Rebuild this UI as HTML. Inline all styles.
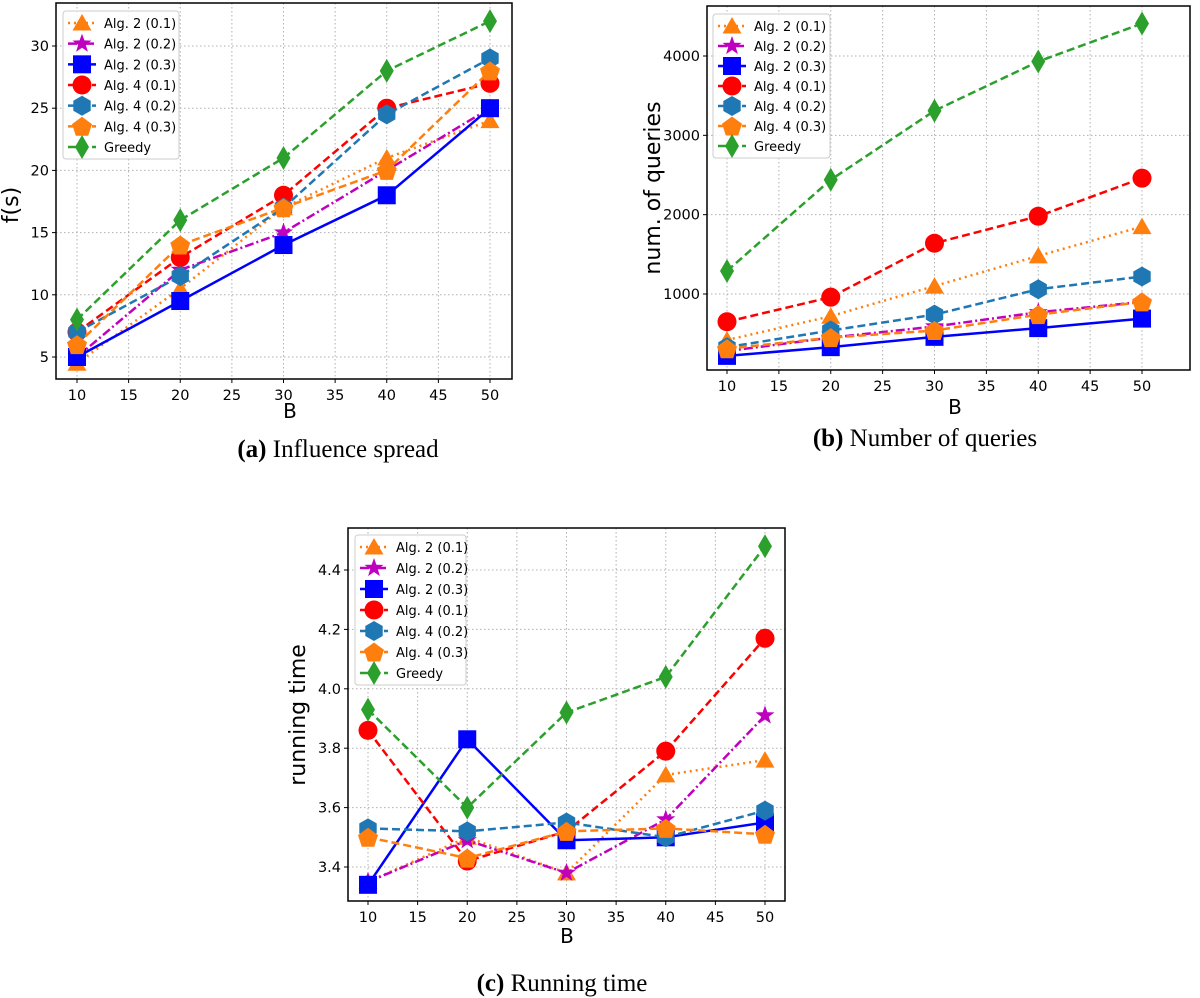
<!DOCTYPE html>
<html><head><meta charset="utf-8"><style>
body{margin:0;background:#fff;}
svg{display:block;font-family:"DejaVu Sans","Liberation Sans",sans-serif;}
.cap{font-family:"Liberation Serif",serif;font-size:25px;}
</style></head><body>
<svg id="fig" width="1200" height="998" viewBox="0 0 1200 998">
<text class="cap" x="338" y="457" text-anchor="middle"><tspan font-weight="bold">(a)</tspan> Influence spread</text>
<text class="cap" x="925" y="446" text-anchor="middle"><tspan font-weight="bold">(b)</tspan> Number of queries</text>
<text class="cap" x="562" y="991" text-anchor="middle"><tspan font-weight="bold">(c)</tspan> Running time</text>
</svg>
<script>
const categories=[10,20,30,40,50];
const seriesNames=["Alg. 2 (0.1)","Alg. 2 (0.2)","Alg. 2 (0.3)","Alg. 4 (0.1)","Alg. 4 (0.2)","Alg. 4 (0.3)","Greedy"];
const xTicks=[10,15,20,25,30,35,40,45,50];
// chart a
const aA21=[4.5,10.5,17,21,24];
const aA22=[5,12,15,20,25];
const aA23=[5,9.5,14,18,25];
const aA41=[7,13,18,25,27];
const aA42=[7,11.5,17,24.5,29];
const aA43=[6,14,17,20,28];
const aGreedy=[8,16,21,28,32];
const aTicks=[5,10,15,20,25,30];
// chart b
const bA21=[420,720,1100,1480,1850];
const bA22=[280,450,590,770,900];
const bA23=[220,330,460,570,690];
const bA41=[650,960,1640,1980,2460];
const bA42=[330,540,740,1060,1220];
const bA43=[310,450,540,740,900];
const bGreedy=[1290,2440,3310,3930,4410];
const bTicks=[1000,2000,3000,4000];
// chart c
const cA21=[3.35,3.50,3.38,3.71,3.76];
const cA22=[3.35,3.49,3.38,3.56,3.91];
const cA23=[3.34,3.83,3.49,3.50,3.55];
const cA41=[3.86,3.42,3.52,3.79,4.17];
const cA42=[3.53,3.52,3.55,3.50,3.59];
const cA43=[3.50,3.43,3.52,3.53,3.51];
const cGreedy=[3.93,3.60,3.92,4.04,4.48];
const cTicks=[3.4,3.6,3.8,4.0,4.2,4.4];

const NS="http://www.w3.org/2000/svg";
const svg=document.getElementById('fig');
const styles=[
 {c:"#ff7f0e",d:"2,4",m:"tri"},
 {c:"#bf00bf",d:"9,3,2,3",m:"star"},
 {c:"#0000ff",d:"",m:"sq"},
 {c:"#ff0000",d:"8,4",m:"circ"},
 {c:"#1f77b4",d:"8,4",m:"hex"},
 {c:"#ff7f0e",d:"8,4",m:"pent"},
 {c:"#2ca02c",d:"8,4",m:"diam"}];
function el(t,a,p){const e=document.createElementNS(NS,t);for(const k in a)e.setAttribute(k,a[k]);(p||svg).appendChild(e);return e;}
function poly(n,r,rot,cx,cy){let p=[];for(let i=0;i<n;i++){const a=rot+i*2*Math.PI/n;p.push((cx+r*Math.cos(a)).toFixed(1)+","+(cy+r*Math.sin(a)).toFixed(1));}return p.join(" ");}
function marker(g,type,cx,cy,col){
 let e;
 if(type==="tri") e=el('polygon',{points:poly(3,11,-Math.PI/2,cx,cy+2)},g);
 else if(type==="star"){let p=[];for(let i=0;i<10;i++){const r=i%2?4:10,a=-Math.PI/2+i*Math.PI/5;p.push((cx+r*Math.cos(a)).toFixed(1)+","+(cy+r*Math.sin(a)).toFixed(1));}e=el('polygon',{points:p.join(" ")},g);}
 else if(type==="sq") e=el('rect',{x:cx-9,y:cy-9,width:18,height:18},g);
 else if(type==="circ") e=el('circle',{cx:cx,cy:cy,r:9.5},g);
 else if(type==="hex") e=el('polygon',{points:poly(6,10,-Math.PI/2,cx,cy)},g);
 else if(type==="pent") e=el('polygon',{points:poly(5,10.5,-Math.PI/2,cx,cy+1)},g);
 else e=el('polygon',{points:`${cx},${cy-12} ${cx+7},${cy} ${cx},${cy+12} ${cx-7},${cy}`},g);
 e.setAttribute('fill',col);
 return e;
}
function chart(id,box,x0px,x1px,yv0,yp0,yv1,yp1,ticks,fmt,data,ylabel,ylx,yly,bx,by,leg){
 const g=el('g',{});
 
 
 const X=v=>x0px+(v-10)*(x1px-x0px)/40;
 const Y=v=>yp0+(v-yv0)*(yp1-yp0)/(yv1-yv0);
 el('rect',{x:box[0],y:box[1],width:box[2]-box[0],height:box[3]-box[1],fill:'#fff'},g);
 xTicks.forEach(t=>{const x=X(t);
  el('line',{x1:x,x2:x,y1:box[1],y2:box[3],stroke:'#b0b0b0','stroke-width':1,'stroke-dasharray':'1.5,2.5'},g);
  el('line',{x1:x,x2:x,y1:box[3],y2:box[3]+4,stroke:'#000'},g);
  const t2=el('text',{x:x,y:box[3]+21,'text-anchor':'middle','font-size':14.5},g);t2.textContent=t;});
 ticks.forEach(t=>{const y=Y(t);
  el('line',{x1:box[0],x2:box[2],y1:y,y2:y,stroke:'#b0b0b0','stroke-width':1,'stroke-dasharray':'1.5,2.5'},g);
  el('line',{x1:box[0]-4,x2:box[0],y1:y,y2:y,stroke:'#000'},g);
  const t2=el('text',{x:box[0]-7,y:y+5,'text-anchor':'end','font-size':14.5},g);t2.textContent=fmt(t);});
 data.forEach((arr,i)=>{const s=styles[i];
  const sg=el('g',{},g);
  
  
  el('polyline',{points:arr.map((v,j)=>X(categories[j])+","+Y(v)).join(" "),fill:'none',stroke:s.c,'stroke-width':2.5,'stroke-dasharray':s.d},sg);
  arr.forEach((v,j)=>{const m=marker(sg,s.m,X(categories[j]),Y(v),s.c);
   
   });
 });
 el('rect',{x:box[0],y:box[1],width:box[2]-box[0],height:box[3]-box[1],fill:'none',stroke:'#000','stroke-width':1.5},g);
 const xl=el('text',{x:bx,y:by,'text-anchor':'middle','font-size':20},g);xl.textContent='B';
 
 const yl=el('text',{x:ylx,y:yly,'text-anchor':'middle','font-size':22,transform:`rotate(-90 ${ylx} ${yly})`},g);yl.textContent=ylabel;
 
 const lg=el('g',{},g);
 
 
 el('rect',{x:leg[0],y:leg[1],width:leg[2],height:leg[3],fill:'#fff','fill-opacity':0.85,stroke:'#ccc',rx:3},lg);
 seriesNames.forEach((n,i)=>{const s=styles[i];const y=leg[1]+12+i*(leg[3]-24)/6;
  const eg=el('g',{},lg);
  
  
  el('line',{x1:leg[0]+5,x2:leg[0]+33,y1:y,y2:y,stroke:s.c,'stroke-width':2.5,'stroke-dasharray':s.d},eg);
  marker(eg,s.m,leg[0]+19,y,s.c);
  const t=el('text',{x:leg[0]+41,y:y+5,'font-size':13},eg);t.textContent=n;});
}
chart('chart-influence-spread',[56,3,512,379],77,490,5,357,30,46,aTicks,t=>t,[aA21,aA22,aA23,aA41,aA42,aA43,aGreedy],'f(s)',18,205,290,418,[63,11,116,148]);
chart('chart-number-of-queries',[707,6,1190,370],727,1142,1000,294,4000,56,bTicks,t=>t,[bA21,bA22,bA23,bA41,bA42,bA43,bGreedy],'num. of queries',660,188,955,414,[713,14,117,144]);
chart('chart-running-time',[348,528,785,901],368,765,3.4,867,4.4,570,cTicks,t=>t.toFixed(1),[cA21,cA22,cA23,cA41,cA42,cA43,cGreedy],'running time',305,715,567,943,[355,535,111,150]);
</script>
</body></html>
